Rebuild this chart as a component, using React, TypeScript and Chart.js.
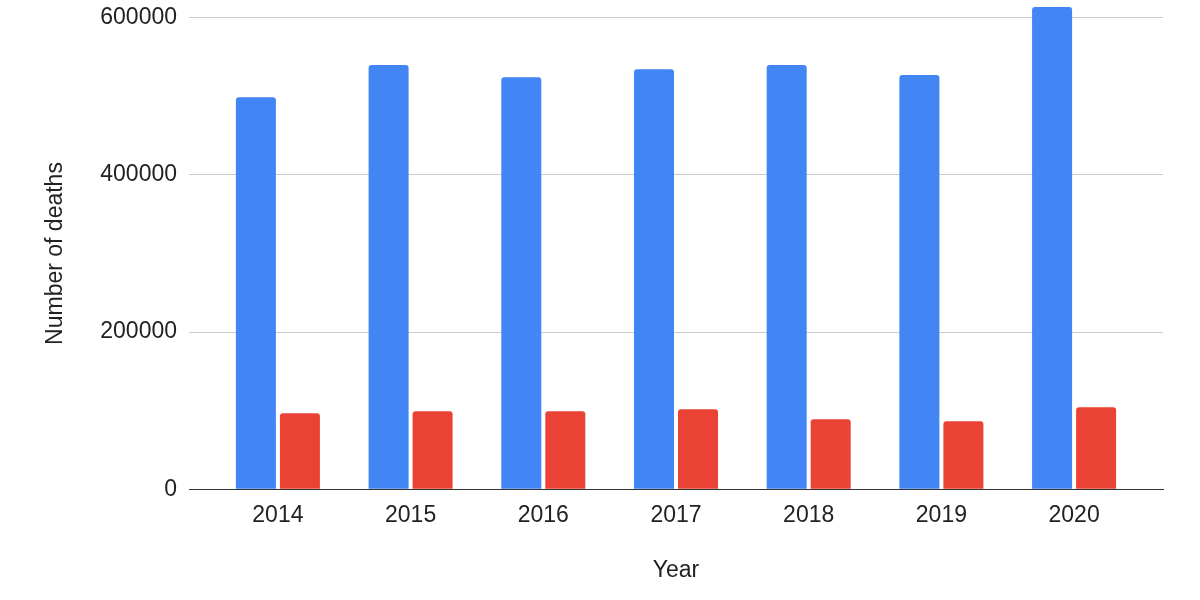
import React, { useEffect, useRef } from "react";
import { Chart, registerables } from "chart.js";

Chart.register(...registerables);

const years: string[] = ["2014", "2015", "2016", "2017", "2018", "2019", "2020"];
const seriesBlue: number[] = [498700, 539800, 524200, 534400, 539800, 527100, 613600];
const seriesRed: number[] = [96700, 99200, 99200, 101800, 89100, 86500, 104300];
const yTicks: number[] = [0, 200000, 400000, 600000];

const FONT = "'Liberation Sans', Arial, sans-serif";

export default function App() {
  const ref = useRef<HTMLCanvasElement | null>(null);

  useEffect(() => {
    if (!ref.current) return;
    const chart = new Chart(ref.current, {
      type: "bar",
      data: {
        datasets: [
          {
            label: "Series 1",
            data: seriesBlue.map((v, i) => ({ x: i, y: v })),
            backgroundColor: "#4285F4",
            borderRadius: 3,
            borderSkipped: "start",
            clip: false,
          },
          {
            label: "Series 2",
            data: seriesRed.map((v, i) => ({ x: i, y: v })),
            backgroundColor: "#EA4335",
            borderRadius: 3,
            borderSkipped: "start",
            clip: false,
          },
        ],
      },
      options: {
        animation: false,
        responsive: false,
        devicePixelRatio: 1,
        barPercentage: 0.909,
        categoryPercentage: 0.6633,
        layout: { padding: { top: 17.7, right: 37, left: 0, bottom: 0 } },
        plugins: { legend: { display: false }, tooltip: { enabled: false } },
        scales: {
          x: {
            type: "linear",
            offset: false,
            min: -0.67,
            max: 6.67,
            afterBuildTicks: (s: any) => {
              s.ticks = years.map((_, i) => ({ value: i }));
            },
            grid: { display: false, drawTicks: false, offset: false },
            border: { display: true, color: "#333333", width: 1 },
            ticks: {
              autoSkip: false,
              maxRotation: 0,
              padding: 13,
              color: "#222222",
              font: { family: FONT, size: 23 },
              callback: (v: any) => {
                const n = Math.round(Number(v));
                return n >= 0 && n < years.length ? years[n] : "";
              },
            },
            title: {
              display: true,
              text: "Year",
              color: "#222222",
              font: { family: FONT, size: 23 },
              padding: { top: 0, bottom: 15.2 },
            },
            afterFit: (s: any) => {
              s.height = 110.7;
              s.paddingLeft = 0;
              s.paddingRight = 0;
              s.paddingTop = 0;
              s.paddingBottom = 0;
            },
          },
          y: {
            min: 0,
            max: 600000,
            afterBuildTicks: (s: any) => {
              s.ticks = yTicks.map((v) => ({ value: v }));
            },
            grid: {
              drawTicks: false,
              lineWidth: 1,
              color: (ctx: any) => (ctx.tick && ctx.tick.value === 0 ? "#333333" : "#CCCCCC"),
            },
            border: { display: false },
            ticks: {
              padding: 12,
              color: "#222222",
              font: { family: FONT, size: 23 },
              callback: (v: any) => String(v),
            },
            title: {
              display: true,
              text: "Number of deaths",
              color: "#222222",
              font: { family: FONT, size: 23 },
              padding: { top: 42.2, bottom: 0 },
            },
            afterFit: (s: any) => {
              s.width = 189;
              s.paddingLeft = 0;
              s.paddingRight = 0;
              s.paddingTop = 0;
              s.paddingBottom = 0;
            },
          },
        },
      },
    });
    return () => chart.destroy();
  }, []);

  return (
    <div style={{ position: "absolute", left: 0, top: 0, width: 1200, height: 600, background: "#fff" }}>
      <canvas ref={ref} width={1200} height={600} style={{ width: 1200, height: 600 }} />
    </div>
  );
}
